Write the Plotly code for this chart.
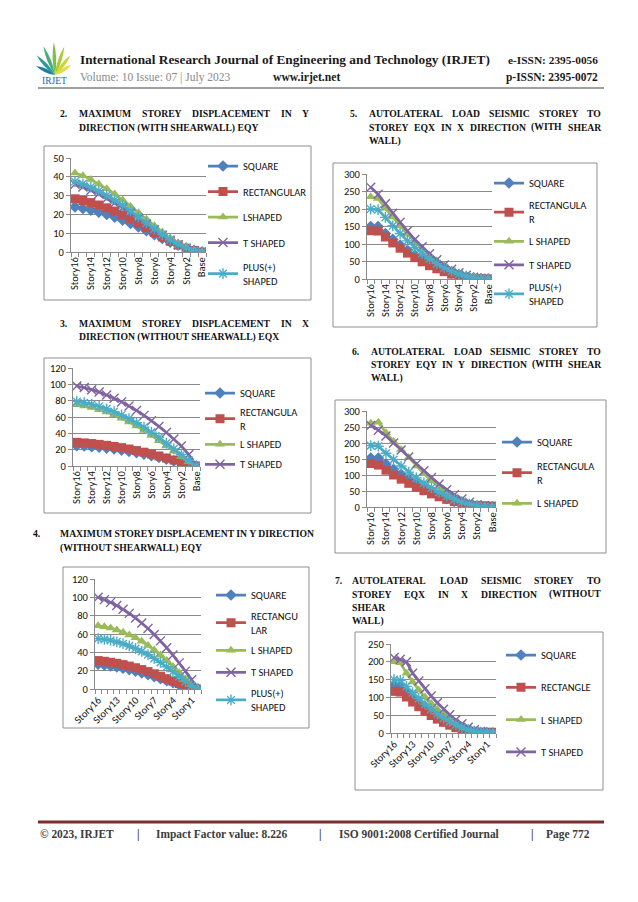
import math
import plotly.graph_objects as go

# ------------------------------------------------------------------ data
categories = ["Story16", "Story15", "Story14", "Story13", "Story12", "Story11",
              "Story10", "Story9", "Story8", "Story7", "Story6", "Story5",
              "Story4", "Story3", "Story2", "Story1", "Base"]
tick_labels_even = [c if i % 2 == 0 else "" for i, c in enumerate(categories)]
tick_labels_third = [c if (i % 3 == 0 and c != "Base") else "" for i, c in enumerate(categories)]

# Chart 2: max storey displacement Y (with shear wall)
c2_square = [24, 23.2, 22.3, 21.2, 20, 18.6, 17, 15.2, 13.3, 11.3, 9.2, 7.2, 5.3, 3.6, 2.1, 0.9, 0]
c2_rect = [28.3, 27.4, 26.3, 25, 23.5, 21.8, 19.8, 17.6, 15.3, 12.9, 10.4, 8, 5.7, 3.7, 2, 0.8, 0]
c2_lshaped = [42, 40.5, 38.5, 36.2, 33.6, 30.8, 27.7, 24.4, 20.9, 17.4, 13.9, 10.6, 7.5, 4.8, 2.6, 1, 0]
c2_tshaped = [36, 34.6, 32.8, 30.8, 28.5, 26.1, 23.5, 20.7, 17.8, 14.8, 11.8, 8.9, 6.2, 3.9, 2, 0.7, 0]
c2_plus = [37.5, 36.2, 34.5, 32.5, 30.2, 27.7, 24.9, 21.9, 18.7, 15.5, 12.3, 9.3, 6.5, 4.1, 2.1, 0.8, 0]

# Chart 3: max storey displacement X (without shear wall)
c3_square = [25, 24.5, 23.8, 23, 22, 20.8, 19.5, 18, 16.4, 14.6, 12.7, 10.6, 8.4, 6.2, 4, 1.9, 0]
c3_rect = [29, 28.3, 27.5, 26.5, 25.3, 24, 22.5, 20.8, 18.9, 16.9, 14.7, 12.3, 9.8, 7.3, 4.8, 2.3, 0]
c3_lshaped = [75, 73.5, 71.5, 69, 66, 62.5, 58.5, 54, 49, 43.5, 37.5, 31, 24.5, 18, 11.5, 5.5, 0]
c3_tshaped = [98, 96, 93.5, 90.5, 87, 83, 78.5, 73.5, 68, 62, 55.5, 48.5, 41, 33, 24.5, 14, 0]
c3_plus = [79, 77.5, 75.5, 73, 70, 66.5, 62.5, 58, 53, 47.5, 41.5, 35, 28, 21, 14, 7, 0]

# Chart 4: max storey displacement Y (without shear wall)
c4_square = [27, 26.2, 25.2, 24, 22.7, 21.2, 19.5, 17.7, 15.7, 13.6, 11.4, 9.1, 6.8, 4.6, 2.6, 1, 0]
c4_rect = [31, 30.2, 29.2, 28, 26.6, 25, 23.2, 21.2, 19, 16.6, 14, 11.3, 8.6, 6, 3.6, 1.5, 0]
c4_lshaped = [69, 68, 66.5, 64.5, 62, 59, 56, 52, 47.5, 42.5, 37, 31, 24.5, 18, 11, 5, 0]
c4_tshaped = [100, 97.5, 94.5, 91, 87, 82.5, 77.5, 72, 66, 59.5, 52.5, 45, 37, 28.5, 19.5, 10, 0]
c4_plus = [55, 54.2, 53, 51.4, 49.4, 47, 44.2, 41, 37.4, 33.4, 29, 24.2, 19, 13.6, 8.2, 3.6, 0]

# Chart 5: storey force EQX (with shear wall)
c5_square = [150, 150, 130, 113, 97, 82, 68, 55, 44, 34, 25, 17, 11, 6, 3, 1, 0]
c5_rect = [138, 137, 120, 103, 88, 74, 61, 49, 38, 29, 21, 14, 8, 4, 2, 1, 0]
c5_lshaped = [235, 230, 202, 177, 152, 128, 106, 86, 68, 52, 38, 26, 17, 10, 5, 2, 0]
c5_tshaped = [262, 242, 215, 188, 162, 137, 113, 92, 72, 55, 40, 28, 18, 11, 5, 2, 0]
c5_plus = [200, 198, 176, 152, 130, 109, 90, 73, 58, 44, 32, 22, 14, 8, 4, 1, 0]

# Chart 6: storey force EQY (with shear wall)
c6_square = [153, 153, 134, 118, 102, 87, 72, 59, 47, 36, 26, 18, 11, 6, 3, 1, 0]
c6_rect = [136, 131, 115, 100, 87, 74, 62, 51, 41, 32, 24, 17, 11, 7, 5, 4, 3]
c6_lshaped = [262, 265, 232, 205, 180, 155, 128, 104, 82, 62, 46, 32, 21, 12, 6, 2, 0]
c6_tshaped = [255, 240, 222, 200, 178, 156, 134, 113, 92, 72, 54, 38, 25, 15, 7, 2, 0]
c6_plus = [192, 190, 168, 148, 128, 109, 91, 75, 60, 46, 34, 24, 15, 9, 4, 1, 0]

# Chart 7: storey force EQX (without shear wall)
c7_square = [135, 133, 118, 102, 88, 74, 61, 49, 39, 29, 21, 14, 8, 4, 2, 1, 0]
c7_rect = [117, 115, 101, 87, 74, 61, 49, 39, 30, 22, 15, 9, 5, 3, 2, 2, 2]
c7_lshaped = [200, 197, 168, 143, 121, 101, 83, 67, 53, 40, 29, 20, 12, 7, 3, 1, 0]
c7_tshaped = [212, 207, 200, 168, 146, 124, 104, 85, 67, 51, 37, 26, 16, 9, 4, 1, 0]
c7_plus = [150, 148, 131, 113, 97, 81, 67, 54, 42, 32, 23, 15, 9, 5, 2, 1, 0]

# ------------------------------------------------------------------ geometry helpers
W, H = 638, 902
PAGE_OFFSET = 8  # the page body adds an 8px margin around the figure


def fx(x):
    return (x - PAGE_OFFSET) / W


def fy(y):
    return 1 - (y - PAGE_OFFSET) / H


# Times-Bold metrics (Liberation Serif Bold is metric compatible)
TB = {" ": 250, "(": 333, ")": 333, "+": 570, ",": 250, "-": 333, ".": 250, ":": 333, "|": 220, "©": 747,
      "A": 722, "B": 667, "C": 722, "D": 722, "E": 667, "F": 611, "G": 778, "H": 778, "I": 389, "J": 500,
      "K": 778, "L": 667, "M": 944, "N": 722, "O": 778, "P": 611, "Q": 778, "R": 722, "S": 556, "T": 667,
      "U": 722, "V": 722, "W": 1000, "X": 722, "Y": 722, "Z": 667,
      "a": 500, "b": 556, "c": 444, "d": 556, "e": 444, "f": 333, "g": 500, "h": 556, "i": 278, "j": 333,
      "k": 556, "l": 278, "m": 833, "n": 556, "o": 500, "p": 556, "q": 556, "r": 444, "s": 389, "t": 333,
      "u": 556, "v": 500, "w": 722, "x": 500, "y": 500, "z": 444}
for d in "0123456789":
    TB[d] = 500


def tb_width(text, size):
    return sum(TB.get(ch, 500) for ch in text) / 1000.0 * size


def fit_size(text, width):
    return width / (tb_width(text, 1.0))


SERIF = "Liberation Serif, Times New Roman, serif"
SANS = "Carlito, Lato, Liberation Sans, sans-serif"

annotations = []
shapes = []


def text(x, y, s, size, color="#111111", bold=True, family=SERIF, anchor="left"):
    annotations.append(dict(
        x=fx(x), y=fy(y), xref="paper", yref="paper", xanchor=anchor, yanchor="middle",
        text=("<b>%s</b>" % s) if bold else s, showarrow=False,
        font=dict(family=family, size=size, color=color)))


HEAD = fit_size("DIRECTION (WITHOUT SHEARWALL) EQX", 202)


def justified(words_line, x0, x1, y, size=HEAD):
    words = words_line.split(" ")
    widths = [tb_width(w, size) for w in words]
    gap = (x1 - x0 - sum(widths)) / (len(words) - 1)
    x = x0
    for w, wd in zip(words, widths):
        text(x, y, w, size)
        x += wd + gap


# ------------------------------------------------------------------ header
leaf_specs = [(155, 21, "#1d7f9e"), (133, 27, "#2a9aa0"), (112, 31, "#46ad7a"), (92, 33, "#7dbf45"),
              (72, 30, "#a9cb34"), (52, 25, "#cbd62f"), (32, 19, "#e2dd4a")]
bx, by = 55, 75
for ang, ln, col in leaf_specs:
    a = math.radians(ang)
    tx, ty = bx + ln * math.cos(a), by - ln * math.sin(a)
    mx, my = (bx + tx) / 2, (by + ty) / 2
    nx, ny = -math.sin(a), -math.cos(a)
    w = 3.6
    c1 = (mx + nx * w, my + ny * w)
    c2 = (mx - nx * w, my - ny * w)
    path = "M %f,%f Q %f,%f %f,%f Q %f,%f %f,%f Z" % (
        fx(bx), fy(by), fx(c1[0]), fy(c1[1]), fx(tx), fy(ty), fx(c2[0]), fy(c2[1]), fx(bx), fy(by))
    shapes.append(dict(type="path", path=path, xref="paper", yref="paper",
                       fillcolor=col, line=dict(width=0), layer="above"))
text(54, 81, "IRJET", 9.5, color="#2a63ad", bold=False, anchor="center")

title_txt = "International Research Journal of Engineering and Technology (IRJET)"
text(78, 60, title_txt, fit_size(title_txt, 412), color="#1a1a1a")
text(600, 60, "e-ISSN: 2395-0056", fit_size("e-ISSN: 2395-0056", 90), color="#1a1a1a", anchor="right")
text(78, 77, "Volume: 10 Issue: 07 | July 2023", 11.5, color="#8a8a8a", bold=False)
text(271, 77, "www.irjet.net", fit_size("www.irjet.net", 68), color="#1a1a1a")
text(600, 77, "p-ISSN: 2395-0072", fit_size("p-ISSN: 2395-0072", 92), color="#1a1a1a", anchor="right")
shapes.append(dict(type="line", xref="paper", yref="paper", x0=fx(38), x1=fx(604), y0=fy(88), y1=fy(88),
                   line=dict(color="#a0a0a0", width=2)))

# ------------------------------------------------------------------ headings
text(58, 113, "2.", HEAD)
justified("MAXIMUM STOREY DISPLACEMENT IN Y", 77, 307, 113)
text(77, 128, "DIRECTION (WITH SHEARWALL) EQY", HEAD)

text(58, 323, "3.", HEAD)
justified("MAXIMUM STOREY DISPLACEMENT IN X", 77, 307, 323)
text(77, 337, "DIRECTION (WITHOUT SHEARWALL) EQX", HEAD)

text(31, 533, "4.", HEAD)
text(58, 533, "MAXIMUM STOREY DISPLACEMENT IN Y DIRECTION", HEAD)
text(58, 548, "(WITHOUT SHEARWALL) EQY", HEAD)

text(348, 113, "5.", HEAD)
justified("AUTOLATERAL LOAD SEISMIC STOREY TO", 367, 599, 113)
justified("STOREY EQX IN X DIRECTION (WITH SHEAR", 367, 599, 127)
text(367, 141, "WALL)", HEAD)

text(350, 351, "6.", HEAD)
justified("AUTOLATERAL LOAD SEISMIC STOREY TO", 369, 599, 351)
justified("STOREY EQY IN Y DIRECTION (WITH SHEAR", 369, 599, 364)
text(369, 378, "WALL)", HEAD)

text(333, 580, "7.", HEAD)
justified("AUTOLATERAL LOAD SEISMIC STOREY TO", 350, 599, 580)
justified("STOREY EQX IN X DIRECTION (WITHOUT", 350, 599, 594)
text(350, 607, "SHEAR", HEAD)
text(350, 621, "WALL)", HEAD)

# ------------------------------------------------------------------ footer
shapes.append(dict(type="line", xref="paper", yref="paper", x0=fx(38), x1=fx(604), y0=fy(822), y1=fy(822),
                   line=dict(color="#7b2d2d", width=3)))
FOOT = fit_size("Impact Factor value: 8.226", 143) * 0.92
foot_col = "#3c3c3c"
text(38, 834, "© 2023, IRJET", FOOT, color=foot_col)
text(135, 834, "|", FOOT, color=foot_col)
text(154, 834, "Impact Factor value: 8.226", FOOT, color=foot_col)
text(317, 834, "|", FOOT, color=foot_col)
text(337, 834, "ISO 9001:2008 Certified Journal", FOOT, color=foot_col)
text(529, 834, "|", FOOT, color=foot_col)
text(544, 834, "Page 772", FOOT, color=foot_col)

# ------------------------------------------------------------------ charts
BLUE, RED, GREEN, PURPLE, CYAN = "#4F81BD", "#C0504D", "#9BBB59", "#8064A2", "#4BACC6"
STYLE = {
    "sq": dict(color=BLUE, symbol="diamond", size=9),
    "re": dict(color=RED, symbol="square", size=9),
    "l": dict(color=GREEN, symbol="triangle-up", size=9),
    "t": dict(color=PURPLE, symbol="x-thin", size=9),
    "p": dict(color=CYAN, symbol="asterisk", size=9),
}
GRID = "#8a8a8a"
TICKFONT = dict(family=SANS, size=10.5, color="#111111")

charts = [
    dict(n=1, box=(44, 146, 311, 300), plot=(71, 158, 206, 252), ymax=50, dtick=10,
         ticktext=tick_labels_even, angle=-90, leg_x=243, leg_top=151.5, gap=6.5,
         series=[("SQUARE", c2_square, "sq", True), ("RECTANGULAR", c2_rect, "re", True),
                 ("LSHAPED", c2_lshaped, "l", True), ("T SHAPED", c2_tshaped, "t", True),
                 ("PLUS(+)<br>SHAPED", c2_plus, "p", True)]),
    dict(n=2, box=(333, 163, 597, 327), plot=(367, 174, 492, 279), ymax=300, dtick=50,
         ticktext=tick_labels_even, angle=-90, leg_x=529, leg_top=168.5, gap=4.5,
         series=[("SQUARE", c5_square, "sq", True), ("RECTANGULA<br>R", c5_rect, "re", True),
                 ("L SHAPED", c5_lshaped, "l", True), ("T SHAPED", c5_tshaped, "t", True),
                 ("PLUS(+)<br>SHAPED", c5_plus, "p", True)]),
    dict(n=3, box=(44, 358, 311, 513), plot=(73, 368, 200, 466), ymax=120, dtick=20,
         ticktext=tick_labels_even, angle=-90, leg_x=240, leg_top=378.5, gap=1,
         series=[("SQUARE", c3_square, "sq", True), ("RECTANGULA<br>R", c3_rect, "re", True),
                 ("L SHAPED", c3_lshaped, "l", True), ("T SHAPED", c3_tshaped, "t", True),
                 ("PLUS(+) SHAPED", c3_plus, "p", False)]),
    dict(n=4, box=(63, 567, 309, 728), plot=(95, 579, 201, 689), ymax=120, dtick=20,
         ticktext=tick_labels_third, angle=-45, leg_x=251, leg_top=580.5, gap=3,
         series=[("SQUARE", c4_square, "sq", True), ("RECTANGU<br>LAR", c4_rect, "re", True),
                 ("L SHAPED", c4_lshaped, "l", True), ("T SHAPED", c4_tshaped, "t", True),
                 ("PLUS(+)<br>SHAPED", c4_plus, "p", True)]),
    dict(n=5, box=(335, 400, 606, 553), plot=(367, 411, 496, 507), ymax=300, dtick=50,
         ticktext=tick_labels_even, angle=-90, leg_x=537, leg_top=427.5, gap=6,
         series=[("SQUARE", c6_square, "sq", True), ("RECTANGULA<br>R", c6_rect, "re", True),
                 ("L SHAPED", c6_lshaped, "l", True), ("T SHAPED", c6_tshaped, "t", False),
                 ("PLUS(+) SHAPED", c6_plus, "p", False)]),
    dict(n=6, box=(355, 632, 603, 790), plot=(391, 644, 496, 733), ymax=250, dtick=50,
         ticktext=tick_labels_third, angle=-45, leg_x=541, leg_top=640.5, gap=13.3,
         series=[("SQUARE", c7_square, "sq", True), ("RECTANGLE", c7_rect, "re", True),
                 ("L SHAPED", c7_lshaped, "l", True), ("T SHAPED", c7_tshaped, "t", True),
                 ("PLUS(+) SHAPED", c7_plus, "p", False)]),
]

fig = go.Figure()
layout_extra = {}
for ch in charts:
    n = ch["n"]
    sfx = "" if n == 1 else str(n)
    leg = "legend" if n == 1 else "legend%d" % n
    bx0, by0, bx1, by1 = ch["box"]
    shapes.append(dict(type="rect", xref="paper", yref="paper", x0=fx(bx0), x1=fx(bx1), y0=fy(by1), y1=fy(by0),
                       line=dict(color="#8f8f8f", width=1), fillcolor="rgba(0,0,0,0)", layer="below"))
    for name, vals, key, show in ch["series"]:
        st = STYLE[key]
        fig.add_trace(go.Scatter(
            x=categories, y=vals, name=name, mode="lines+markers",
            line=dict(color=st["color"], width=2.75),
            marker=dict(symbol=st["symbol"], size=st["size"], color=st["color"],
                        line=dict(color=st["color"], width=1.4 if key in ("t", "p") else 0)),
            xaxis="x" + sfx, yaxis="y" + sfx, legend=leg, legendgroup="c%d_%s" % (n, key),
            showlegend=show, hoverinfo="skip"))
    px0, py0, px1, py1 = ch["plot"]
    layout_extra["xaxis" + sfx] = dict(
        domain=[fx(px0), fx(px1)], anchor="y" + sfx, type="category",
        categoryorder="array", categoryarray=categories, range=[-0.5, 16.5],
        tickmode="array", tickvals=categories, ticktext=ch["ticktext"], tickangle=ch["angle"],
        ticks="outside", tickson="boundaries", ticklen=4, tickcolor=GRID, tickwidth=1,
        showline=True, linecolor=GRID, linewidth=1, showgrid=False, zeroline=False,
        tickfont=TICKFONT, fixedrange=True, automargin=False)
    layout_extra["yaxis" + sfx] = dict(
        domain=[fy(py1), fy(py0)], anchor="x" + sfx, range=[0, ch["ymax"]], dtick=ch["dtick"],
        tick0=0, showgrid=True, gridcolor=GRID, gridwidth=1, showline=True, linecolor=GRID,
        linewidth=1, ticks="outside", ticklen=4, tickcolor=GRID, zeroline=False,
        tickfont=TICKFONT, fixedrange=True, automargin=False)
    layout_extra[leg] = dict(
        x=fx(ch["leg_x"] - 40), y=fy(ch["leg_top"]), xanchor="left", yanchor="top",
        xref="paper", yref="paper", bgcolor="rgba(0,0,0,0)", borderwidth=0,
        tracegroupgap=ch["gap"], itemwidth=30, traceorder="grouped",
        font=dict(family=SANS, size=10.5, color="#111111"))

fig.update_layout(
    width=W, height=H, autosize=False,
    margin=dict(l=0, r=0, t=0, b=0, pad=0, autoexpand=False),
    paper_bgcolor="white", plot_bgcolor="white", showlegend=True,
    annotations=annotations, shapes=shapes, hovermode=False,
    **layout_extra)

fig.write_html("out.html")
